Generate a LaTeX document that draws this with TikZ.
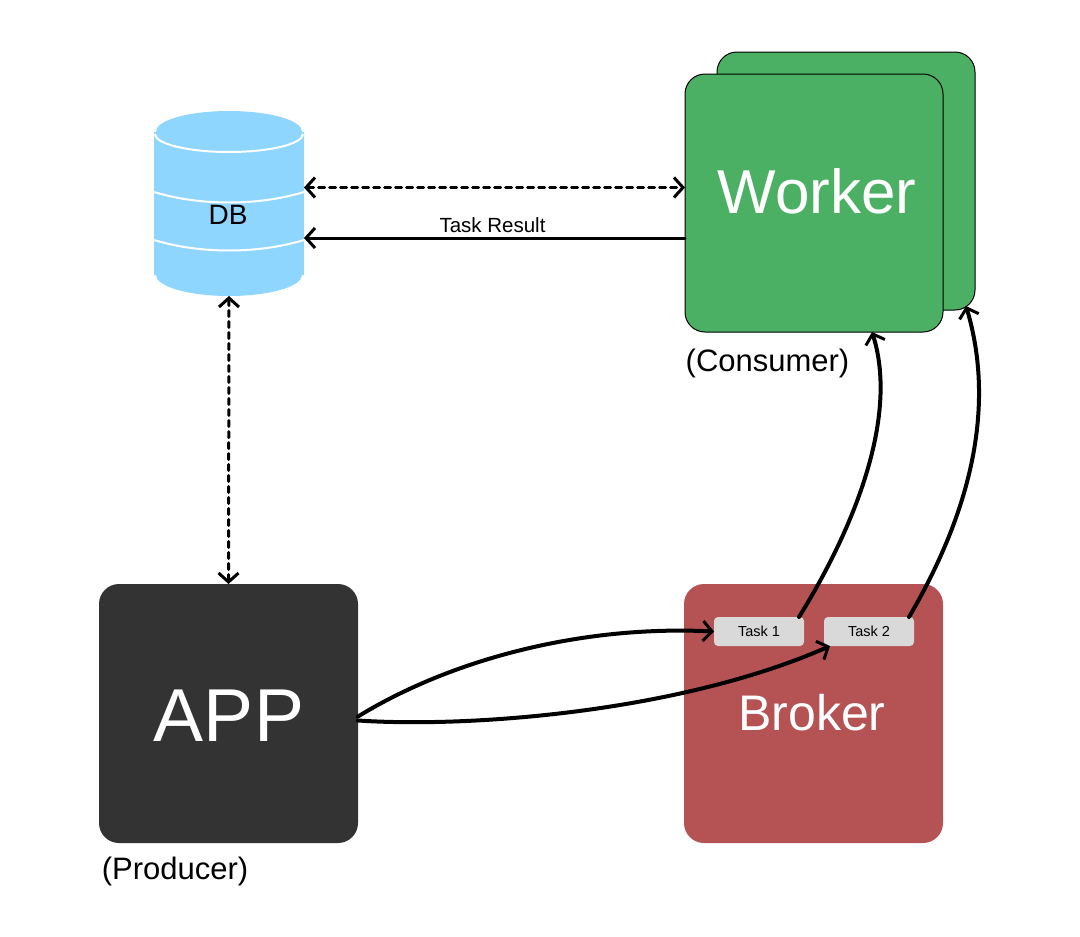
\documentclass[tikz,border=0pt]{standalone}
\usepackage{fontspec}
\setmainfont{Liberation Sans}
\usetikzlibrary{arrows.meta}
\definecolor{wgreen}{HTML}{4BB063}
\definecolor{bred}{HTML}{B55254}
\definecolor{appdark}{HTML}{333333}
\definecolor{dbblue}{HTML}{8FD6FF}
\definecolor{taskgrey}{HTML}{D9D9D9}
\newcommand{\fsz}[1]{\fontsize{#1}{#1}\selectfont}
\tikzset{
	box/.style={minimum width=259pt, minimum height=259pt, rounded corners=20pt, inner sep=0pt, outer sep=0pt},
	task/.style={fill=taskgrey, minimum width=90pt, minimum height=29pt, rounded corners=4pt, inner sep=0pt, outer sep=0pt, font=\fsz{14.5}},
	lab/.style={inner sep=0pt, outer sep=0pt, anchor=base},
	conn/.style={line width=3pt, draw=black, line cap=round},
	thick conn/.style={line width=4pt, draw=black, line cap=round},
	tip/.tip={Straight Barb[length=9pt, width=20pt, line width=3pt]},
	dbline/.style={draw=white, line width=2pt},
}
\begin{document}
\begin{tikzpicture}[x=1pt, y=-1pt]
	\useasboundingbox (0,0) rectangle (1080,937);

	% worker stack
	\node [box, fill=wgreen, draw=black, line width=1pt, minimum width=258pt, minimum height=258pt] (worker2) at (846,181) {};
	\node [box, fill=wgreen, draw=black, line width=1pt, minimum width=258pt, minimum height=258pt] (worker) at (814,203) {};
	\node [lab, text=white, font=\fsz{62}] at (817,213) {Worker};
	\node [lab, font=\fsz{31}] (consumer) at (767.5,371) {(Consumer)};

	% database
	\fill [dbblue] (154,132) -- (154,275) -- (156,275) arc [start angle=180, end angle=360, x radius=73pt, y radius=21pt] -- (304,275) -- (304,132) -- cycle;
	\fill [dbblue] (229,131.5) ellipse [x radius=73pt, y radius=20.5pt];
	\draw [dbline] (155,134) arc [start angle=180, end angle=360, x radius=74pt, y radius=18pt];
	\draw [dbline] (154,192) .. controls (200,206) and (258,206) .. (304,192);
	\draw [dbline] (154,240) .. controls (200,254) and (258,254) .. (304,240);
	\node [lab, font=\fsz{28}] (dblabel) at (228,224) {DB};
	\coordinate (dbA) at (304,187.5);
	\coordinate (dbB) at (304,238);
	\coordinate (dbC) at (229,296);

	% app
	\node [box, fill=appdark] (app) at (228.5,713.5) {};
	\node [lab, text=white, font=\fsz{75}] at (229,741) {APP};
	\node [lab, font=\fsz{31}] (producer) at (175,879) {(Producer)};

	% broker
	\node [box, fill=bred] (broker) at (813.5,713.5) {};
	\node [lab, text=white, font=\fsz{50}] at (812,730) {Broker};
	\node [task] (task1) at (759,631.5) {Task 1};
	\node [task] (task2) at (869,631.5) {Task 2};

	% connectors
	\draw [conn, dashed, dash pattern=on 6pt off 5pt, {tip}-{tip}] (dbA) -- ([yshift=15.5pt]worker.west);
	\draw [conn, -{tip}] ([yshift=-35pt]worker.west) -- (dbB) node [pos=0.5, lab, font=\fsz{20.5}, xshift=-2pt, yshift=6pt] {Task Result};
	\draw [conn, dashed, dash pattern=on 6pt off 5pt, {tip}-{tip}] (dbC) -- (app.north);

	\draw [thick conn, -{tip}] ([yshift=-3pt]app.east) .. controls (450,660) and (580,625) .. (task1.west);
	\draw [thick conn, -{tip}] ([yshift=-7pt]app.east) .. controls (470,728) and (680,712) .. ([xshift=6pt]task2.south west);
	\draw [thick conn, -{tip}] ([xshift=-5pt]task1.north east) .. controls (850,535) and (900,420) .. ([xshift=58pt]worker.south);
	\draw [thick conn, -{tip}] ([xshift=-5pt]task2.north east) .. controls (960,530) and (1000,420) .. ([xshift=120pt,yshift=4pt]worker2.south);
\end{tikzpicture}
\end{document}
